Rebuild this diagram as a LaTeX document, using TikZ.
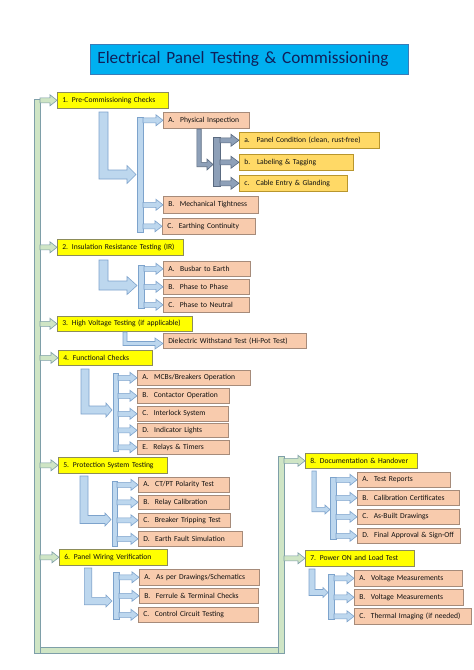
\documentclass[tikz,border=0pt]{standalone}
\usepackage{fontspec}
\setmainfont{Carlito}
\usetikzlibrary{calc}
\definecolor{titlefill}{HTML}{00B0F0}
\definecolor{titleline}{HTML}{3A7CB8}
\definecolor{titletext}{HTML}{10205A}
\definecolor{txt}{HTML}{101010}
\definecolor{yfill}{HTML}{FFFF00}
\definecolor{yline}{HTML}{8C8C5A}
\definecolor{pfill}{HTML}{F8CBAD}
\definecolor{pline}{HTML}{A68B7A}
\definecolor{gofill}{HTML}{FFD966}
\definecolor{goline}{HTML}{B8962E}
\definecolor{grfill}{HTML}{CFE5C5}
\definecolor{grline}{HTML}{7E9FA8}
\definecolor{blfill}{HTML}{BDD7EE}
\definecolor{blline}{HTML}{7DA3CC}
\definecolor{slfill}{HTML}{8EA0B8}
\definecolor{slline}{HTML}{5A6A80}
\tikzset{
  bx/.style={draw, line width=0.6pt, inner xsep=5pt, inner ysep=0pt,
    font=\fontsize{7.6}{8.5}\selectfont, text=txt, align=left, anchor=north west},
  ybox/.style={bx, fill=yfill, draw=yline},
  pbox/.style={bx, fill=pfill, draw=pline},
  gbox/.style={bx, fill=gofill, draw=goline},
  garr/.style={fill=grfill, draw=grline, line width=0.6pt},
  barr/.style={fill=blfill, draw=blline, line width=0.6pt},
  sarr/.style={fill=slfill, draw=slline, line width=0.6pt},
}
% box: style, name, x1, y1, x2, y2, text
\newcommand\bx[7]{%
  \pgfmathsetmacro\bh{#6-#4}\pgfmathsetmacro\tw{#5-#3-10}%
  \node[#1, minimum height=\bh pt, text width=\tw pt] (#2) at (#3,#4) {#7};}
% horizontal block arrow: style, x start, target node, shaft half, head half, head length
\newcommand\harr[6]{%
  \path[#1] let \p1=(#3.west), \p2=(#2,0) in
  (\x2,\y1+#4pt) -- (\x1-#6pt,\y1+#4pt) -- (\x1-#6pt,\y1+#5pt) -- (\x1,\y1)
  -- (\x1-#6pt,\y1-#5pt) -- (\x1-#6pt,\y1-#4pt) -- (\x2,\y1-#4pt) -- cycle;}
% bent block arrow: style, xv, s, ytop, yh, xtip, head half, head length
\newcommand\larr[8]{%
  \path[#1] ({#2-#3},#4) -- ({#2-#3},{#5+#3}) -- ({#6-#8},{#5+#3}) -- ({#6-#8},{#5+#7})
  -- (#6,#5) -- ({#6-#8},{#5-#7}) -- ({#6-#8},{#5-#3}) -- ({#2+#3},{#5-#3})
  -- ({#2+#3},#4) -- cycle;}
\begin{document}
\begin{tikzpicture}[x=1pt,y=-1pt]
\useasboundingbox (0,0) rectangle (474,670);
\fill[white] (0,0) rectangle (474,670);
% title
\node[draw=titleline, fill=titlefill, line width=0.8pt, anchor=north west,
  minimum height=30pt, text width=304pt, inner xsep=7pt, inner ysep=0pt, align=left,
  font=\fontsize{17.2}{20}\selectfont, text=titletext] (title) at (90,44)
  {Electrical Panel Testing \& Commissioning};
% green trunk
\draw[garr] (34,647) rectangle (284,653);
\draw[garr] (34,99) rectangle (40,653);
\draw[garr] (278,456) rectangle (284,653);
% boxes
\bx{ybox}{b1}{57}{92}{168}{108}{1. Pre-Commissioning Checks}
\bx{pbox}{b1A}{163}{112}{249}{128}{A.\hspace{3pt} Physical Inspection}
\bx{gbox}{b1Aa}{239}{132}{379}{148}{a.\hspace{3pt} Panel Condition (clean, rust-free)}
\bx{gbox}{b1Ab}{239}{154}{353}{170}{b.\hspace{3pt} Labeling \& Tagging}
\bx{gbox}{b1Ac}{239}{175}{347}{191}{c.\hspace{3pt} Cable Entry \& Glanding}
\bx{pbox}{b1B}{163}{196}{258}{213}{B.\hspace{3pt} Mechanical Tightness}
\bx{pbox}{b1C}{162}{218}{255}{234}{C.\hspace{3pt} Earthing Continuity}
\bx{ybox}{b2}{57}{239}{183}{255}{2. Insulation Resistance Testing (IR)}
\bx{pbox}{b2A}{163}{261}{250}{276}{A.\hspace{3pt} Busbar to Earth}
\bx{pbox}{b2B}{163}{279}{249}{294}{B.\hspace{3pt} Phase to Phase}
\bx{pbox}{b2C}{163}{297}{249}{312}{C.\hspace{3pt} Phase to Neutral}
\bx{ybox}{b3}{57}{316}{192}{331}{3. High Voltage Testing (if applicable)}
\bx{pbox}{b3A}{163}{333}{306}{348}{Dielectric Withstand Test (Hi-Pot Test)}
\bx{ybox}{b4}{58}{350}{152}{365}{4. Functional Checks}
\bx{pbox}{b4A}{137}{370}{250}{385}{A.\hspace{3pt} MCBs/Breakers Operation}
\bx{pbox}{b4B}{137}{388}{229}{403}{B.\hspace{3pt} Contactor Operation}
\bx{pbox}{b4C}{137}{406}{228}{421}{C.\hspace{3pt} Interlock System}
\bx{pbox}{b4D}{137}{423}{228}{437}{D.\hspace{3pt} Indicator Lights}
\bx{pbox}{b4E}{137}{440}{229}{454}{E.\hspace{3pt} Relays \& Timers}
\bx{ybox}{b5}{58}{457}{167}{473}{5. Protection System Testing}
\bx{pbox}{b5A}{138}{477}{229}{492}{A.\hspace{3pt} CT/PT Polarity Test}
\bx{pbox}{b5B}{138}{495}{229}{509}{B.\hspace{3pt} Relay Calibration}
\bx{pbox}{b5C}{138}{513}{230}{527}{C.\hspace{3pt} Breaker Tripping Test}
\bx{pbox}{b5D}{138}{531}{242}{546}{D.\hspace{3pt} Earth Fault Simulation}
\bx{ybox}{b6}{59}{549}{167}{565}{6. Panel Wiring Verification}
\bx{pbox}{b6A}{139}{569}{259}{585}{A.\hspace{3pt} As per Drawings/Schematics}
\bx{pbox}{b6B}{139}{588}{258}{603}{B.\hspace{3pt} Ferrule \& Terminal Checks}
\bx{pbox}{b6C}{138}{607}{258}{622}{C.\hspace{3pt} Control Circuit Testing}
\bx{ybox}{b8}{305}{453}{417}{468}{8. Documentation \& Handover}
\bx{pbox}{b8A}{357}{472}{450}{487}{A.\hspace{3pt} Test Reports}
\bx{pbox}{b8B}{357}{490}{459}{505}{B.\hspace{3pt} Calibration Certificates}
\bx{pbox}{b8C}{357}{509}{459}{524}{C.\hspace{3pt} As-Built Drawings}
\bx{pbox}{b8D}{357}{528}{460}{543}{D.\hspace{3pt} Final Approval \& Sign-Off}
\bx{ybox}{b7}{305}{550}{414}{566}{7. Power ON and Load Test}
\bx{pbox}{b7A}{354}{570}{462}{586}{A.\hspace{3pt} Voltage Measurements}
\bx{pbox}{b7B}{354}{589}{463}{605}{B.\hspace{3pt} Voltage Measurements}
\bx{pbox}{b7C}{354}{608}{471}{624}{C.\hspace{3pt} Thermal Imaging (if needed)}
% green branch arrows
\foreach \nm in {b1,b2,b3,b4,b5,b6}{\harr{garr}{40}{\nm}{2.5}{5.5}{7}}
\foreach \nm in {b8,b7}{\harr{garr}{284}{\nm}{2.5}{5.5}{7}}
% group 1
\larr{barr}{103.5}{4.5}{112}{174.5}{136}{9}{9}
\draw[barr] (137,117) rectangle (143,232);
\foreach \nm in {b1A,b1B,b1C}{\harr{barr}{143}{\nm}{2.5}{5.5}{7}}
\larr{sarr}{199}{2.2}{129}{164.5}{213}{5.5}{6}
\draw[sarr] (213,137) rectangle (220,186);
\foreach \nm in {b1Aa,b1Ab,b1Ac}{\harr{sarr}{220}{\nm}{2.5}{6}{8}}
% group 2
\larr{barr}{103.5}{4.5}{260}{285.5}{137}{9}{10}
\draw[barr] (138,265) rectangle (144,308);
\foreach \nm in {b2A,b2B,b2C}{\harr{barr}{144}{\nm}{2.5}{5.5}{7}}
% group 3
\larr{barr}{125}{2}{332}{343.5}{163}{5.5}{8}
% group 4
\larr{barr}{85}{4}{369}{410}{112}{7}{6}
\draw[barr] (113,373) rectangle (118,451);
\foreach \nm in {b4A,b4B,b4C,b4D,b4E}{\harr{barr}{118}{\nm}{2.5}{5.5}{7}}
% group 5
\larr{barr}{84}{4}{476}{519.5}{111}{6.5}{6}
\draw[barr] (112,481) rectangle (117,546);
\foreach \nm in {b5A,b5B,b5C,b5D}{\harr{barr}{117}{\nm}{2.5}{5.5}{7}}
% group 6
\larr{barr}{88}{3.7}{568}{601}{112}{6}{6}
\draw[barr] (113,572) rectangle (119,619);
\foreach \nm in {b6A,b6B,b6C}{\harr{barr}{119}{\nm}{2.5}{5.5}{7}}
% group 8
\larr{barr}{314}{2.2}{471}{509.5}{330}{4.5}{5}
\draw[barr] (330,477) rectangle (336,539);
\foreach \nm in {b8A,b8B,b8C,b8D}{\harr{barr}{336}{\nm}{2.5}{5.5}{7}}
% group 7
\larr{barr}{312}{3}{569}{592.5}{328}{5}{5}
\draw[barr] (328,574) rectangle (334,619);
\foreach \nm in {b7A,b7B,b7C}{\harr{barr}{334}{\nm}{2.5}{5.5}{7}}
\end{tikzpicture}
\end{document}
